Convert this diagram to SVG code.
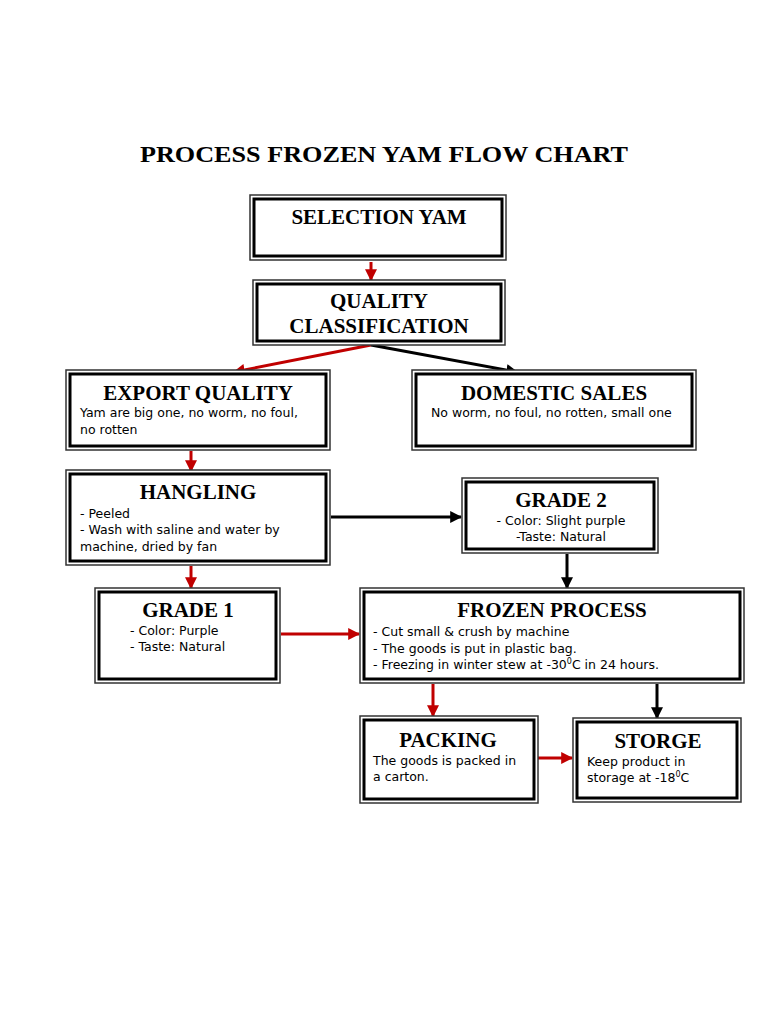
<svg xmlns="http://www.w3.org/2000/svg" width="768" height="1024" viewBox="0 0 768 1024">
<style>
.o{fill:#fff;stroke:#333;stroke-width:1.5}
.i{fill:none;stroke:#000;stroke-width:3}
.h{font-family:"Liberation Serif",serif;font-weight:bold;font-size:21px;text-anchor:middle}
.t{font-family:"DejaVu Sans","Liberation Sans",sans-serif;font-size:12.5px}
.r{stroke:#c00000;stroke-width:3;fill:none}
.k{stroke:#000;stroke-width:3;fill:none}
</style>
<defs>
<marker id="ar" viewBox="0 0 10 10" refX="9" refY="5" markerWidth="4" markerHeight="4" orient="auto"><path d="M0,0L10,5L0,10z" fill="#c00000"/></marker>
<marker id="ak" viewBox="0 0 10 10" refX="9" refY="5" markerWidth="4" markerHeight="4" orient="auto"><path d="M0,0L10,5L0,10z" fill="#000"/></marker>
</defs>
<text x="384" y="162" font-family="Liberation Serif,serif" font-weight="bold" font-size="23" text-anchor="middle" textLength="488" lengthAdjust="spacingAndGlyphs">PROCESS FROZEN YAM FLOW CHART</text>
<g id="connectors">
<line class="r" x1="371" y1="262" x2="371" y2="280" marker-end="url(#ar)"/>
<line class="r" x1="371" y1="345" x2="234" y2="372" marker-end="url(#ar)"/>
<line class="k" x1="371" y1="345" x2="517" y2="372" marker-end="url(#ak)"/>
<line class="r" x1="191" y1="451" x2="191" y2="471" marker-end="url(#ar)"/>
<line class="k" x1="331" y1="517" x2="461" y2="517" marker-end="url(#ak)"/>
<line class="k" x1="567" y1="554" x2="567" y2="588" marker-end="url(#ak)"/>
<line class="r" x1="191" y1="566" x2="191" y2="588" marker-end="url(#ar)"/>
<line class="r" x1="281" y1="634" x2="359" y2="634" marker-end="url(#ar)"/>
<line class="r" x1="433" y1="684" x2="433" y2="716" marker-end="url(#ar)"/>
<line class="k" x1="657" y1="684" x2="657" y2="718" marker-end="url(#ak)"/>
<line class="r" x1="538" y1="758" x2="572" y2="758" marker-end="url(#ar)"/>
</g>
<g id="selection"><rect class="o" x="250" y="195" width="256" height="65"/><rect class="i" x="254" y="199" width="248" height="57"/><text class="h" x="379" y="224">SELECTION YAM</text></g>
<g id="quality"><rect class="o" x="253" y="280" width="252" height="65"/><rect class="i" x="257" y="284" width="244" height="57"/><text class="h" x="379" y="308">QUALITY</text><text class="h" x="379" y="333">CLASSIFICATION</text></g>
<g id="export"><rect class="o" x="66" y="370" width="264" height="80"/><rect class="i" x="70" y="374" width="256" height="72"/><text class="h" x="198" y="400">EXPORT QUALITY</text><text class="t" x="80" y="417">Yam are big one, no worm, no foul,</text><text class="t" x="80" y="434">no rotten</text></g>
<g id="domestic"><rect class="o" x="412" y="370" width="284" height="80"/><rect class="i" x="416" y="374" width="276" height="72"/><text class="h" x="554" y="400">DOMESTIC SALES</text><text class="t" x="431" y="417">No worm, no foul, no rotten, small one</text></g>
<g id="hangling"><rect class="o" x="66" y="470" width="264" height="95"/><rect class="i" x="70" y="474" width="256" height="87"/><text class="h" x="198" y="499">HANGLING</text><text class="t" x="80" y="518">- Peeled</text><text class="t" x="80" y="534">- Wash with saline and water by</text><text class="t" x="80" y="551">machine, dried by fan</text></g>
<g id="grade2"><rect class="o" x="462" y="478" width="196" height="75"/><rect class="i" x="466" y="482" width="188" height="67"/><text class="h" x="561" y="507">GRADE 2</text><text class="t" x="561" y="525" text-anchor="middle">- Color: Slight purple</text><text class="t" x="561" y="541" text-anchor="middle">-Taste: Natural</text></g>
<g id="grade1"><rect class="o" x="95" y="588" width="185" height="95"/><rect class="i" x="99" y="592" width="177" height="87"/><text class="h" x="188" y="617">GRADE 1</text><text class="t" x="130" y="635">- Color: Purple</text><text class="t" x="130" y="651">- Taste: Natural</text></g>
<g id="frozen"><rect class="o" x="360" y="588" width="384" height="95"/><rect class="i" x="364" y="592" width="376" height="87"/><text class="h" x="552" y="617">FROZEN PROCESS</text><text class="t" x="373" y="636">- Cut small &amp; crush by machine</text><text class="t" x="373" y="653">- The goods is put in plastic bag.</text><text class="t" x="373" y="669">- Freezing in winter stew at -30<tspan dy="-5" font-size="8">0</tspan><tspan dy="5">C in 24 hours.</tspan></text></g>
<g id="packing"><rect class="o" x="360" y="716" width="178" height="87"/><rect class="i" x="364" y="720" width="170" height="79"/><text class="h" x="448" y="747">PACKING</text><text class="t" x="373" y="765">The goods is packed in</text><text class="t" x="373" y="781">a carton.</text></g>
<g id="storge"><rect class="o" x="573" y="718" width="168" height="84"/><rect class="i" x="577" y="722" width="160" height="76"/><text class="h" x="658" y="748">STORGE</text><text class="t" x="587" y="766">Keep product  in</text><text class="t" x="587" y="782">storage at  -18<tspan dy="-5" font-size="8">0</tspan><tspan dy="5">C</tspan></text></g>
</svg>
